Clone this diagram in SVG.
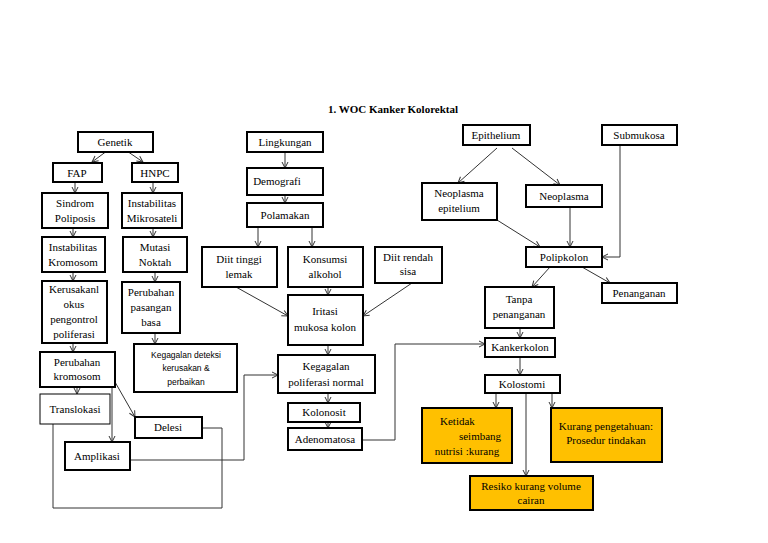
<svg xmlns="http://www.w3.org/2000/svg" width="768" height="543" viewBox="0 0 768 543">
<defs>
<marker id="a" markerWidth="8" markerHeight="8" refX="7" refY="4" orient="auto" markerUnits="userSpaceOnUse"><path d="M1,1 L7,4 L1,7" fill="none" stroke="#333" stroke-width="1"/></marker>
<style>
rect{fill:#fff;stroke:#000;stroke-width:2}
.o{fill:#FFC000}
.t{stroke-width:1}
text{font-family:"Liberation Serif",serif;font-size:11px;fill:#000;text-anchor:middle}
.s{font-family:"Liberation Sans",sans-serif;font-size:8.5px}
#c path{fill:none;stroke:#333;stroke-width:1}
#c .m{marker-end:url(#a)}
</style>
</defs>
<rect x="0" y="0" width="768" height="543" style="fill:#fff;stroke:none"/>
<text x="393" y="113" style="font-weight:bold;font-size:11px">1.    WOC Kanker Kolorektal</text>
<g id="c">
<path class="m" d="M115,145 L92,162"/>
<path class="m" d="M118,145 L143,162"/>
<path class="m" d="M75,182 V193"/>
<path class="m" d="M153,182 V193"/>
<path class="m" d="M73,228 V237"/>
<path class="m" d="M153,228 V237"/>
<path class="m" d="M73,272 V281"/>
<path class="m" d="M155,272 V282"/>
<path class="m" d="M73,343 V352"/>
<path class="m" d="M155,333 V344"/>
<path class="m" d="M77,387 V394"/>
<path class="m" d="M115,382 L135,417"/>
<path class="m" d="M112,387 V442"/>
<path d="M53,417 V508 H222 V428 H202"/>
<path class="m" d="M130,460 H244 V375 H278"/>
<path class="m" d="M285,152 V168"/>
<path class="m" d="M285,195 V203"/>
<path class="m" d="M258,227 V247"/>
<path class="m" d="M312,227 V247"/>
<path class="m" d="M236,287 L288,316"/>
<path class="m" d="M412,283 L363,316"/>
<path class="m" d="M328,287 V295"/>
<path class="m" d="M328,345 V355"/>
<path class="m" d="M328,393 V403"/>
<path class="m" d="M328,422 V428"/>
<path class="m" d="M362,440 H395 V344 H485"/>
<path class="m" d="M497,148 L458,183"/>
<path class="m" d="M512,148 L560,185"/>
<path class="m" d="M497,220 L540,247"/>
<path class="m" d="M570,207 V247"/>
<path class="m" d="M620,145 V257 H602"/>
<path class="m" d="M550,267 L532,287"/>
<path class="m" d="M582,267 L610,283"/>
<path class="m" d="M520,328 V338"/>
<path class="m" d="M520,357 V375"/>
<path class="m" d="M496,393 V408"/>
<path class="m" d="M552,393 V408"/>
<path class="m" d="M526,393 V476"/>
</g>
<g id="genetik"><rect x="78" y="132" width="75" height="20"/><text x="115" y="146">Genetik</text></g>
<g id="fap"><rect x="53" y="163" width="49" height="19"/><text x="77" y="177">FAP</text></g>
<g id="hnpc"><rect x="132" y="163" width="46" height="19"/><text x="155" y="177">HNPC</text></g>
<g id="sindrom"><rect x="42" y="193" width="66" height="35"/><text x="75" y="207">Sindrom</text><text x="75" y="222">Poliposis</text></g>
<g id="mikro"><rect x="122" y="193" width="60" height="35"/><text x="152" y="207">Instabilitas</text><text x="152" y="222">Mikrosateli</text></g>
<g id="kromo"><rect x="42" y="237" width="63" height="35"/><text x="73" y="251">Instabilitas</text><text x="73" y="266">Kromosom</text></g>
<g id="mutasi"><rect x="123" y="237" width="64" height="35"/><text x="155" y="251">Mutasi</text><text x="155" y="266">Noktah</text></g>
<g id="kerusakan"><rect x="42" y="281" width="65" height="62"/><text x="74" y="293">Kerusakanl</text><text x="74" y="308">okus</text><text x="74" y="323">pengontrol</text><text x="74" y="338">poliferasi</text></g>
<g id="perubahan-basa"><rect x="122" y="282" width="58" height="51"/><text x="151" y="296">Perubahan</text><text x="151" y="311">pasangan</text><text x="151" y="326">basa</text></g>
<g id="deteksi"><rect x="134" y="344" width="103" height="48"/><text class="s" x="186" y="358">Kegagalan deteksi</text><text class="s" x="186" y="371">kerusakan &amp;</text><text class="s" x="186" y="385">perbaikan</text></g>
<g id="perubahan-kromosom"><rect x="40" y="352" width="75" height="35"/><text x="77" y="366">Perubahan</text><text x="77" y="380">kromosom</text></g>
<g id="translokasi"><rect class="t" x="40" y="394" width="70" height="30"/><text x="75" y="413">Translokasi</text></g>
<g id="delesi"><rect x="135" y="417" width="67" height="21"/><text x="168" y="431">Delesi</text></g>
<g id="amplikasi"><rect x="65" y="442" width="65" height="28"/><text x="97" y="460">Amplikasi</text></g>
<g id="lingkungan"><rect x="247" y="132" width="76" height="20"/><text x="285" y="146">Lingkungan</text></g>
<g id="demografi"><rect x="247" y="168" width="76" height="27"/><text x="277" y="185">Demografi</text></g>
<g id="polamakan"><rect x="247" y="203" width="76" height="24"/><text x="285" y="219">Polamakan</text></g>
<g id="diit-tinggi"><rect x="202" y="247" width="75" height="40"/><text x="239" y="263">Diit tinggi</text><text x="239" y="278">lemak</text></g>
<g id="alkohol"><rect x="288" y="247" width="75" height="40"/><text x="325" y="263">Konsumsi</text><text x="325" y="278">alkohol</text></g>
<g id="diit-rendah"><rect x="375" y="247" width="67" height="36"/><text x="408" y="261">Diit rendah</text><text x="408" y="275">sisa</text></g>
<g id="iritasi"><rect x="288" y="295" width="75" height="50"/><text x="325" y="315">Iritasi</text><text x="325" y="331">mukosa kolon</text></g>
<g id="kegagalan"><rect x="278" y="355" width="97" height="38"/><text x="326" y="370">Kegagalan</text><text x="326" y="386">poliferasi normal</text></g>
<g id="kolonosit"><rect x="288" y="403" width="72" height="19"/><text x="324" y="416">Kolonosit</text></g>
<g id="adenomatosa"><rect x="288" y="428" width="74" height="22"/><text x="325" y="443">Adenomatosa</text></g>
<g id="epithelium"><rect x="463" y="125" width="67" height="20"/><text x="496" y="139">Epithelium</text></g>
<g id="submukosa"><rect x="602" y="125" width="75" height="20"/><text x="639" y="139">Submukosa</text></g>
<g id="neo-epi"><rect x="422" y="183" width="75" height="37"/><text x="459" y="197">Neoplasma</text><text x="459" y="212">epitelium</text></g>
<g id="neoplasma"><rect x="526" y="185" width="76" height="22"/><text x="564" y="200">Neoplasma</text></g>
<g id="polipkolon"><rect x="526" y="247" width="76" height="20"/><text x="564" y="261">Polipkolon</text></g>
<g id="penanganan"><rect x="602" y="283" width="75" height="20"/><text x="639" y="297">Penanganan</text></g>
<g id="tanpa"><rect x="485" y="287" width="69" height="41"/><text x="519" y="303">Tanpa</text><text x="519" y="318">penanganan</text></g>
<g id="kanker"><rect x="485" y="338" width="70" height="19"/><text x="520" y="351">Kankerkolon</text></g>
<g id="kolostomi"><rect x="485" y="375" width="75" height="18"/><text x="522" y="388">Kolostomi</text></g>
<g id="ketidak"><rect class="o" x="422" y="408" width="90" height="55"/><text x="440" y="425" style="text-anchor:start">Ketidak</text><text x="480" y="440">seimbang</text><text x="467" y="455">nutrisi :kurang</text></g>
<g id="kurang"><rect class="o" x="551" y="408" width="111" height="54"/><text x="606" y="430">Kurang pengetahuan:</text><text x="606" y="444">Prosedur tindakan</text></g>
<g id="resiko"><rect class="o" x="470" y="476" width="123" height="34"/><text x="531" y="490">Resiko kurang volume</text><text x="531" y="504">cairan</text></g>
</svg>
